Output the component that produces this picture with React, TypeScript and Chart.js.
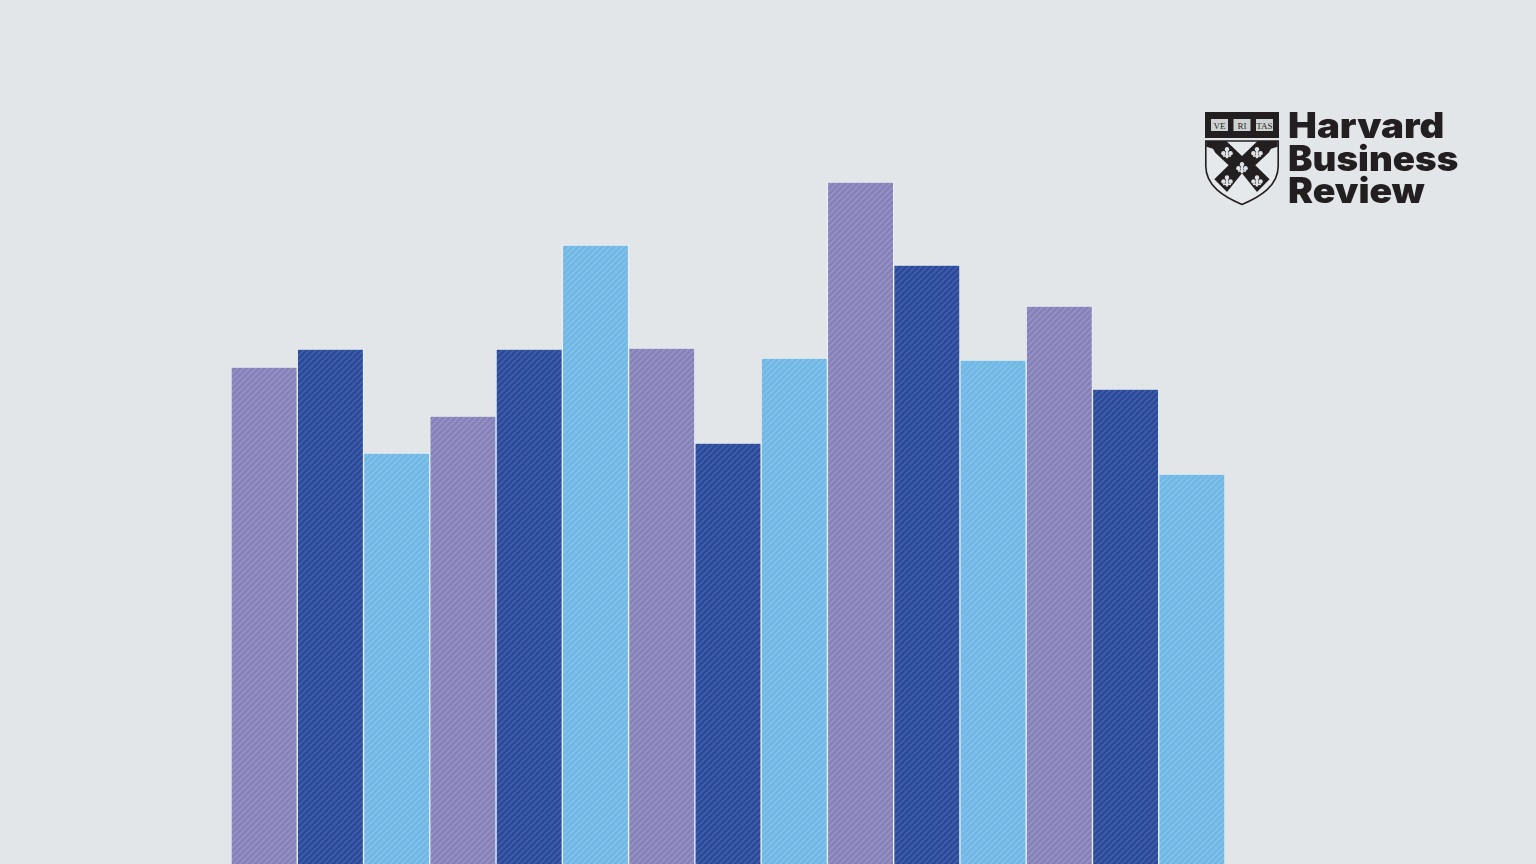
import React, { useEffect, useRef } from "react";
import { Chart, registerables } from "chart.js";

Chart.register(...registerables);

const categories = ["1","2","3","4","5","6","7","8","9","10","11","12","13","14","15"];
const values = [497, 515, 411, 448, 515, 619, 516, 421, 506, 682, 599, 504, 558, 475, 390];
const seriesKinds = [0,1,2,0,1,2,0,1,2,0,1,2,0,1,2];
const baseColors = ["#8480b7", "#2a4896", "#6fb6e5"];
const stripeColors = ["#9490c3", "#3d5dab", "#80c1ea"];
const logoLines = ["Harvard", "Business", "Review"];
const logoStretch = [1.1, 1.05, 1.07];
const mottoParts = ["VE", "RI", "TAS"];

function stripePattern(ctx: CanvasRenderingContext2D, base: string, stripe: string) {
  const size = 6;
  const tile = document.createElement("canvas");
  tile.width = size;
  tile.height = size;
  const t = tile.getContext("2d")!;
  t.fillStyle = base;
  t.fillRect(0, 0, size, size);
  t.strokeStyle = stripe;
  t.lineWidth = 2;
  for (let k = -size; k <= size * 2; k += size) {
    t.beginPath();
    t.moveTo(k - 1, size + 1);
    t.lineTo(k + size + 1, -1);
    t.stroke();
  }
  return ctx.createPattern(tile, "repeat")!;
}

function Shield() {
  const fleurs = [[22, 12.7], [52, 12.7], [37, 27.7], [22, 41], [52, 41]];
  return (
    <svg width={76} height={96} viewBox="0 0 76 96" style={{ position: "absolute", left: 1204, top: 111 }}>
      <rect x={1} y={1} width={74} height={26} fill="#231f20" />
      {mottoParts.map((p, i) => (
        <g key={p}>
          <rect x={7 + i * 22.5} y={8} width={17} height={12} fill="#cfd2d3" />
          <text x={15.5 + i * 22.5} y={17.5} textAnchor="middle" fontFamily="Liberation Serif" fontSize={9} fill="#231f20">{p}</text>
        </g>
      ))}
      <g transform="translate(1,29)">
        <path d="M0.8 1 H73.2 V26 C73.2 46 55 57 37 64.5 C19 57 0.8 46 0.8 26 Z" fill="#e6e9eb" stroke="#231f20" strokeWidth={1.6} />
        <polygon
          points="1.3,1 21.3,1 37,16 52.6,1 72.6,1 72.6,6.7 66,8.7 63.6,12.7 50.3,25.3 64.6,39.3 52,52 37,33.3 22,52 9.3,39.3 23.6,25.3 10.3,12.7 8,8.7 1.3,6.7"
          fill="#231f20"
        />
        {fleurs.map(([x, y]) => (
          <g key={`${x}-${y}`} fill="#dfe2e4">
            <circle cx={x} cy={y - 3.5} r={2.2} />
            <circle cx={x - 3.6} cy={y + 0.5} r={2.2} />
            <circle cx={x + 3.6} cy={y + 0.5} r={2.2} />
            <rect x={x - 1.2} y={y - 2} width={2.4} height={7.5} />
            <rect x={x - 4} y={y + 2.5} width={8} height={1.6} />
          </g>
        ))}
      </g>
    </svg>
  );
}

export default function App() {
  const ref = useRef<HTMLCanvasElement>(null);

  useEffect(() => {
    document.body.style.margin = "0";
    document.body.style.overflow = "hidden";
    const ctx = ref.current!.getContext("2d")!;
    const patterns = baseColors.map((b, i) => stripePattern(ctx, b, stripeColors[i]));
    const chart = new Chart(ref.current!, {
      type: "bar",
      data: {
        labels: categories,
        datasets: [
          {
            data: values,
            backgroundColor: seriesKinds.map((k) => patterns[k]),
            borderColor: "rgba(236,243,248,0.75)",
            borderWidth: 1,
            barPercentage: 1,
            categoryPercentage: 1,
          },
        ],
      },
      options: {
        animation: false,
        responsive: false,
        layout: { padding: { left: 231, right: 311, top: 0, bottom: 0 } },
        plugins: { legend: { display: false }, tooltip: { enabled: false }, title: { display: false } },
        scales: {
          x: { display: false },
          y: { display: false, min: 0, max: 864 },
        },
      },
    });
    return () => chart.destroy();
  }, []);

  return (
    <div style={{ position: "relative", width: 1536, height: 864, background: "#e2e6e9", overflow: "hidden" }}>
      <canvas ref={ref} width={1536} height={864} style={{ position: "absolute", left: 0, top: 0, display: "block" }} />
      <Shield />
      {logoLines.map((line, i) => (
        <div
          key={line}
          style={{
            position: "absolute",
            left: 1288,
            top: 104 + i * 32.5,
            fontFamily: "Inter",
            fontWeight: 900,
            fontSize: 35,
            lineHeight: "42px",
            color: "#231f20",
            whiteSpace: "nowrap",
            transformOrigin: "left center",
            transform: `scaleX(${logoStretch[i]})`,
          }}
        >
          {line}
        </div>
      ))}
    </div>
  );
}
